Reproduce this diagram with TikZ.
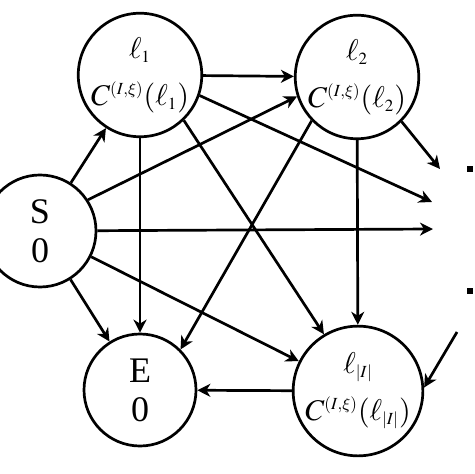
\documentclass[tikz,border=0pt]{standalone}
\usepackage{mathptmx}
\usepackage[no-math]{fontspec}
\setmainfont{Liberation Serif}
\usetikzlibrary{arrows.meta}
\DeclareSymbolFont{cmletters}{OML}{cmm}{m}{it}
\DeclareMathSymbol{\xi}{\mathord}{cmletters}{"18}
\DeclareMathSizes{15}{15}{8.5}{6}
\begin{document}
\begin{tikzpicture}[x=0.5pt, y=-0.5pt, line width=1.35pt,
        >={Stealth[length=6.5pt, width=6.5pt, inset=2pt]},
        vertex/.style={draw, circle, minimum size=56pt, inner sep=0pt, align=center,
            font=\fontsize{18}{19.5}\selectfont},
        lvertex/.style={vertex, font=\fontsize{15}{23.5}\selectfont},
        dot/.style={fill, minimum size=3pt, inner sep=0pt}]
        \useasboundingbox (0, 0) rectangle (474, 474);
        \node [vertex] (S) at (40, 231) {S\\0};
        \node [lvertex] (l1) at (140, 75) {$\ell_1$\\$C^{(I,\xi)}(\ell_1)$};
        \node [lvertex] (l2) at (357, 77) {$\ell_2$\\$C^{(I,\xi)}(\ell_2)$};
        \node [vertex] (E) at (140, 390) {E\\0};
        \node [lvertex] (lI) at (358, 391) {$\ell_{|I|}$\\$C^{(I,\xi)}(\ell_{|I|})$};
        \node [dot] (d1) at (470, 169) {};
        \node [dot] (d2) at (470, 291) {};
        \coordinate (r1) at (440, 169);
        \coordinate (r2) at (432, 202);
        \coordinate (r3) at (433, 229);
        \coordinate (in) at (457, 332);
        \draw [->] (S) to (l1);
        \draw [->] (S.33) to (l2.198);
        \draw [->] (S) to (r3);
        \draw [->] (S) to (E);
        \draw [->] (S) to (lI);
        \draw [->] (l1) to (l2);
        \draw [->] (l1) to (E);
        \draw [->] (l1.-46) to (lI.121);
        \draw [->] (l1.-19) to (r2);
        \draw [->] (l2.224) to (E.45);
        \draw [->] (l2) to (lI);
        \draw [->] (l2.-45) to (r1);
        \draw [->] (lI) to (E);
        \draw [->] (in) to (lI.3);
    \end{tikzpicture}
\end{document}
